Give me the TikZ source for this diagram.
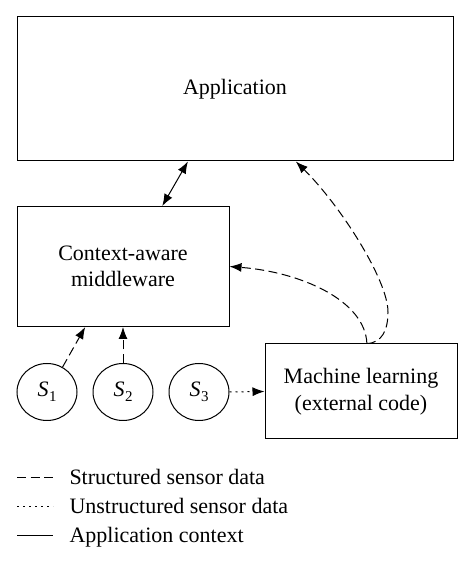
\documentclass[tikz,border=0pt]{standalone}
\usepackage{fontspec}
\setmainfont{Liberation Serif}
\usetikzlibrary{arrows.meta, shapes.geometric}

\newcommand{\sens}[1]{\textit{S}\kern0.5pt\raisebox{-5pt}{\fontsize{15}{15}\selectfont #1}}

\begin{document}
\begin{tikzpicture}[x=1pt, y=1pt, line width=1pt,
    >={Latex[length=12pt, width=9pt]},
    every node/.style={font=\fontsize{22}{26.5}\selectfont},
    box/.style={draw, rectangle, align=center, inner sep=0pt},
    sensor/.style={draw, ellipse, minimum width=60pt, minimum height=57pt, inner sep=0pt},
    structured/.style={dash pattern=on 9pt off 4.5pt},
    unstructured/.style={dash pattern=on 2pt off 4pt}]

    \useasboundingbox (0, 0) rectangle (474, 567);

    \node[box, minimum width=436pt, minimum height=144pt] (app) at (235, 478) {Application};
    \node[box, minimum width=212pt, minimum height=120pt] (mw) at (123, 300.5) {Context-aware\\middleware};
    \node[box, minimum width=192pt, minimum height=95pt] (ml) at (361, 175.5) {Machine learning\\(external code)};

    \node[sensor] (s1) at (47, 175) {\sens{1}};
    \node[sensor] (s2) at (123, 175) {\sens{2}};
    \node[sensor] (s3) at (199, 175) {\sens{3}};

    \draw[<->] (app.-123) -- (mw.57);
    \draw[structured, ->] (s1.58) -- (mw.-122);
    \draw[structured, ->] (s2.north) -- (mw.south);
    \draw[unstructured, ->] (s3.east) -- (ml.west);
    \draw[structured, ->] (ml.83) .. controls (365, 267) and (300, 295) .. (mw.east);
    \draw[structured, ->] (ml.83) .. controls (382, 224) and (388, 237) .. (388, 255)
        .. controls (388, 287) and (340, 362) .. (app.-50);

    \coordinate (k1) at (17, 89);
    \coordinate (k2) at (17, 60);
    \coordinate (k3) at (17, 31);

    \draw[structured] (k1) -- ++(36, 0);
    \draw[unstructured] (k2) -- ++(36, 0);
    \draw (k3) -- ++(36, 0);

    \node[anchor=base west, inner sep=0pt] (t1) at (69, 82) {Structured sensor data};
    \node[anchor=base west, inner sep=0pt] (t2) at (69, 53) {Unstructured sensor data};
    \node[anchor=base west, inner sep=0pt] (t3) at (69, 24) {Application context};

\end{tikzpicture}
\end{document}
